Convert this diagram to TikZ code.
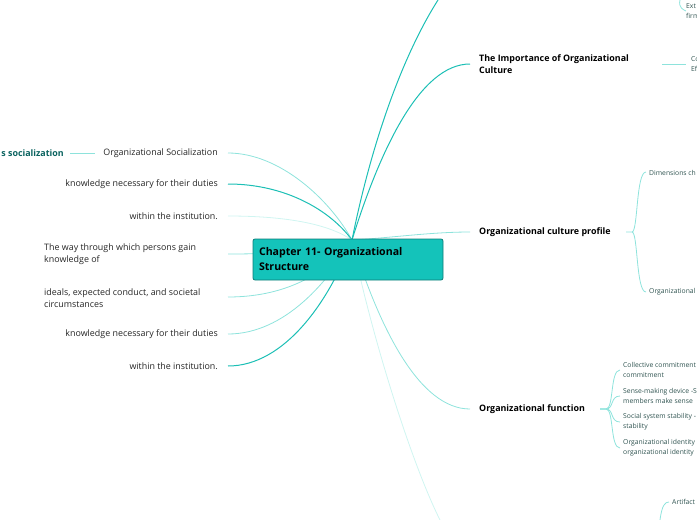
\documentclass[tikz,border=0pt]{standalone}
\usepackage{fontspec}
\setmainfont{Open Sans}
\definecolor{dkl}{HTML}{1CBFB5}
\definecolor{ltl}{HTML}{8EE3DC}
\definecolor{vlt}{HTML}{CFF5F1}
\definecolor{rootf}{HTML}{14C3BA}
\definecolor{rootb}{HTML}{0E7C78}
\definecolor{smt}{HTML}{2F5350}
\begin{document}
\begin{tikzpicture}[x=1pt,y=-1pt,
  dk/.style={draw=dkl, line width=1pt},
  lt/.style={draw=ltl, line width=0.8pt},
  lbl/.style={font=\fontsize{8.9}{12}\selectfont, text=black!85, inner sep=0pt, align=left},
  lblr/.style={lbl, anchor=east, align=right},
  bold/.style={font=\fontsize{8.9}{12}\selectfont\bfseries, text=black, inner sep=0pt, anchor=west, align=left},
  sm/.style={font=\fontsize{6.8}{10}\selectfont, text=smt, inner sep=0pt, anchor=west, align=left}]
\useasboundingbox (0,0) rectangle (697,520);
\coordinate (c) at (352,240);
% right side
\node[bold] (imp) at (479,64) {The Importance of Organizational\\Culture};
\node[bold] (prof) at (479,232) {Organizational culture profile};
\node[bold] (func) at (479,409) {Organizational function};
\coordinate (top) at (438,0);
\coordinate (bot) at (440,520);
\draw[dk] (c) .. controls (370,150) and (400,60) .. (top);
\draw[dk] (c) .. controls (380,150) and (420,64) .. (470,64);
\draw[lt] (c) .. controls (390,238) and (430,232) .. (470,232);
\draw[lt] (c) .. controls (380,330) and (420,409) .. (470,409);
\draw[lt,draw=vlt] (c) .. controls (370,330) and (410,460) .. (bot);
\node[sm] (co) at (691,64) {Co\\Ef};
\draw[lt] (662,64) -- (686,64);
\node[sm] (ex) at (686,11) {Ext\\firm};
\draw[lt] (680,0) .. controls (678,8) and (684,10) .. (686,11);
\node[sm] (d1) at (649,173) {Dimensions ch};
\node[sm] (d2) at (649,292) {Organizational};
\draw[lt] (626,232) -- (632,232) .. controls (638,232) and (636,172) .. (646,172);
\draw[lt] (632,232) .. controls (638,232) and (636,292) .. (646,292);
\node[sm] (f1) at (623,370) {Collective commitment\\commitment};
\node[sm] (f2) at (623,396) {Sense-making device -S\\members make sense};
\node[sm] (f3) at (623,422) {Social system stability -\\stability};
\node[sm] (f4) at (623,448) {Organizational identity\\organizational identity};
\foreach \n/\y in {f1/370,f2/396,f3/422,f4/448}
  \draw[lt] (600,409) -- (606,409) .. controls (614,409) and (610,\y) .. (620,\y);
\node[sm] (art) at (672,502) {Artifact};
\draw[lt] (660,520) .. controls (662,505) and (665,502) .. (669,502);
% left side
\node[lblr] (os) at (218,153) {Organizational Socialization};
\node[font=\fontsize{8.9}{12}\selectfont\bfseries, text=rootb!80!black, anchor=east, inner sep=0pt] (ps) at (64,153) {s socialization};
\draw[lt] (70,153) -- (95,153);
\node[lblr] (k1) at (218,184) {knowledge necessary for their duties};
\node[lblr] (w1) at (218,216) {within the institution.};
\node[lbl, anchor=west] (way) at (44,254) {The way through which persons gain\\knowledge of};
\node[lbl, anchor=west] (ide) at (44,298) {ideals, expected conduct, and societal\\circumstances};
\node[lblr] (k2) at (218,334) {knowledge necessary for their duties};
\node[lblr] (w2) at (218,366) {within the institution.};
\draw[lt] (228,153) .. controls (280,153) and (330,200) .. (c);
\draw[dk] (228,184) .. controls (285,184) and (330,210) .. (c);
\draw[lt,draw=vlt] (228,216) .. controls (290,216) and (330,225) .. (c);
\draw[lt] (228,254) .. controls (290,254) and (320,250) .. (c);
\draw[lt] (228,297) .. controls (290,297) and (330,270) .. (c);
\draw[lt] (228,334) .. controls (285,334) and (330,280) .. (c);
\draw[dk] (228,366) .. controls (285,366) and (330,300) .. (c);
% centre (drawn last, on top of the connectors)
\node[draw=rootb, fill=rootf, rounded corners=2pt, line width=0.8pt,
  minimum width=190pt, minimum height=41pt, text width=178pt, align=left,
  font=\fontsize{10.6}{15}\selectfont\bfseries, text=black] (root) at (348,259.5)
  {Chapter 11- Organizational\\Structure};
\end{tikzpicture}
\end{document}
